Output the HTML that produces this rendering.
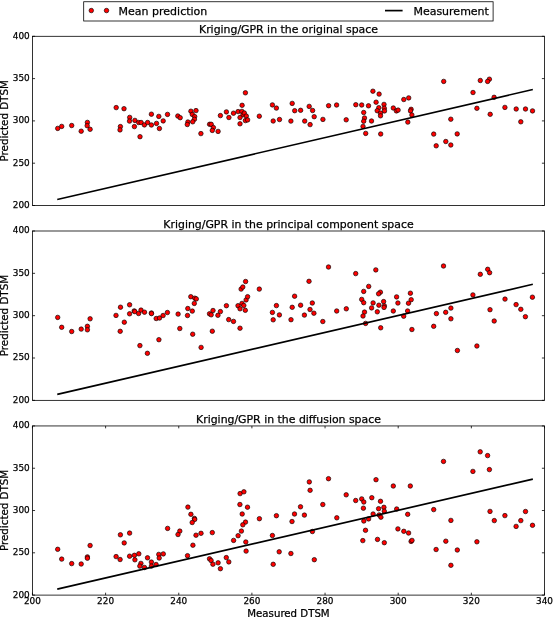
<!DOCTYPE html><html><head><meta charset="utf-8"><style>html,body{margin:0;padding:0;background:#fff;}svg{display:block}text{font-family:"DejaVu Sans","Liberation Sans",sans-serif;fill:#000;stroke:#000;stroke-width:0.25px}</style></head><body>
<svg width="553" height="617" viewBox="0 0 553 617">
<rect x="0" y="0" width="553" height="617" fill="#fff"/>
<rect x="83.7" y="1.75" width="409.4" height="19.25" fill="#fff" stroke="#000" stroke-width="0.8"/>
<circle cx="91.3" cy="10.55" r="2.25" fill="#f00" stroke="#000" stroke-width="0.65"/>
<circle cx="106.5" cy="10.55" r="2.25" fill="#f00" stroke="#000" stroke-width="0.65"/>
<text x="118.6" y="15.0" font-size="11">Mean prediction</text>
<line x1="385.0" y1="10.6" x2="402.6" y2="10.6" stroke="#000" stroke-width="1.7"/>
<text x="413.4" y="15.0" font-size="11">Measurement</text>
<circle cx="57.7" cy="128.4" r="2.25" fill="#f00" stroke="#000" stroke-width="0.65"/>
<circle cx="61.7" cy="126.4" r="2.25" fill="#f00" stroke="#000" stroke-width="0.65"/>
<circle cx="71.7" cy="125.5" r="2.25" fill="#f00" stroke="#000" stroke-width="0.65"/>
<circle cx="81.2" cy="131.2" r="2.25" fill="#f00" stroke="#000" stroke-width="0.65"/>
<circle cx="87.4" cy="122.4" r="2.25" fill="#f00" stroke="#000" stroke-width="0.65"/>
<circle cx="87.2" cy="125.7" r="2.25" fill="#f00" stroke="#000" stroke-width="0.65"/>
<circle cx="90.1" cy="129.3" r="2.25" fill="#f00" stroke="#000" stroke-width="0.65"/>
<circle cx="116.2" cy="107.6" r="2.25" fill="#f00" stroke="#000" stroke-width="0.65"/>
<circle cx="124.0" cy="108.7" r="2.25" fill="#f00" stroke="#000" stroke-width="0.65"/>
<circle cx="120.4" cy="126.6" r="2.25" fill="#f00" stroke="#000" stroke-width="0.65"/>
<circle cx="120.0" cy="129.9" r="2.25" fill="#f00" stroke="#000" stroke-width="0.65"/>
<circle cx="129.7" cy="117.4" r="2.25" fill="#f00" stroke="#000" stroke-width="0.65"/>
<circle cx="129.5" cy="121.1" r="2.25" fill="#f00" stroke="#000" stroke-width="0.65"/>
<circle cx="134.9" cy="120.4" r="2.25" fill="#f00" stroke="#000" stroke-width="0.65"/>
<circle cx="134.4" cy="126.6" r="2.25" fill="#f00" stroke="#000" stroke-width="0.65"/>
<circle cx="138.7" cy="122.5" r="2.25" fill="#f00" stroke="#000" stroke-width="0.65"/>
<circle cx="141.1" cy="122.5" r="2.25" fill="#f00" stroke="#000" stroke-width="0.65"/>
<circle cx="140.0" cy="136.7" r="2.25" fill="#f00" stroke="#000" stroke-width="0.65"/>
<circle cx="144.4" cy="124.9" r="2.25" fill="#f00" stroke="#000" stroke-width="0.65"/>
<circle cx="147.6" cy="122.5" r="2.25" fill="#f00" stroke="#000" stroke-width="0.65"/>
<circle cx="151.4" cy="114.2" r="2.25" fill="#f00" stroke="#000" stroke-width="0.65"/>
<circle cx="151.4" cy="125.0" r="2.25" fill="#f00" stroke="#000" stroke-width="0.65"/>
<circle cx="158.8" cy="116.4" r="2.25" fill="#f00" stroke="#000" stroke-width="0.65"/>
<circle cx="156.5" cy="123.4" r="2.25" fill="#f00" stroke="#000" stroke-width="0.65"/>
<circle cx="159.4" cy="128.5" r="2.25" fill="#f00" stroke="#000" stroke-width="0.65"/>
<circle cx="163.2" cy="120.9" r="2.25" fill="#f00" stroke="#000" stroke-width="0.65"/>
<circle cx="167.5" cy="114.4" r="2.25" fill="#f00" stroke="#000" stroke-width="0.65"/>
<circle cx="177.8" cy="116.0" r="2.25" fill="#f00" stroke="#000" stroke-width="0.65"/>
<circle cx="180.2" cy="117.7" r="2.25" fill="#f00" stroke="#000" stroke-width="0.65"/>
<circle cx="190.9" cy="111.2" r="2.25" fill="#f00" stroke="#000" stroke-width="0.65"/>
<circle cx="196.0" cy="110.6" r="2.25" fill="#f00" stroke="#000" stroke-width="0.65"/>
<circle cx="192.3" cy="114.4" r="2.25" fill="#f00" stroke="#000" stroke-width="0.65"/>
<circle cx="194.7" cy="116.6" r="2.25" fill="#f00" stroke="#000" stroke-width="0.65"/>
<circle cx="194.4" cy="119.3" r="2.25" fill="#f00" stroke="#000" stroke-width="0.65"/>
<circle cx="192.7" cy="121.8" r="2.25" fill="#f00" stroke="#000" stroke-width="0.65"/>
<circle cx="187.9" cy="122.0" r="2.25" fill="#f00" stroke="#000" stroke-width="0.65"/>
<circle cx="187.3" cy="124.5" r="2.25" fill="#f00" stroke="#000" stroke-width="0.65"/>
<circle cx="200.9" cy="133.6" r="2.25" fill="#f00" stroke="#000" stroke-width="0.65"/>
<circle cx="209.6" cy="124.3" r="2.25" fill="#f00" stroke="#000" stroke-width="0.65"/>
<circle cx="211.2" cy="124.3" r="2.25" fill="#f00" stroke="#000" stroke-width="0.65"/>
<circle cx="213.4" cy="127.6" r="2.25" fill="#f00" stroke="#000" stroke-width="0.65"/>
<circle cx="212.3" cy="130.4" r="2.25" fill="#f00" stroke="#000" stroke-width="0.65"/>
<circle cx="218.1" cy="131.4" r="2.25" fill="#f00" stroke="#000" stroke-width="0.65"/>
<circle cx="220.4" cy="115.6" r="2.25" fill="#f00" stroke="#000" stroke-width="0.65"/>
<circle cx="226.4" cy="111.9" r="2.25" fill="#f00" stroke="#000" stroke-width="0.65"/>
<circle cx="228.9" cy="117.5" r="2.25" fill="#f00" stroke="#000" stroke-width="0.65"/>
<circle cx="233.5" cy="113.2" r="2.25" fill="#f00" stroke="#000" stroke-width="0.65"/>
<circle cx="238.1" cy="111.6" r="2.25" fill="#f00" stroke="#000" stroke-width="0.65"/>
<circle cx="241.9" cy="111.4" r="2.25" fill="#f00" stroke="#000" stroke-width="0.65"/>
<circle cx="242.1" cy="105.3" r="2.25" fill="#f00" stroke="#000" stroke-width="0.65"/>
<circle cx="245.4" cy="92.8" r="2.25" fill="#f00" stroke="#000" stroke-width="0.65"/>
<circle cx="243.0" cy="114.8" r="2.25" fill="#f00" stroke="#000" stroke-width="0.65"/>
<circle cx="244.3" cy="113.0" r="2.25" fill="#f00" stroke="#000" stroke-width="0.65"/>
<circle cx="246.3" cy="116.1" r="2.25" fill="#f00" stroke="#000" stroke-width="0.65"/>
<circle cx="240.0" cy="117.5" r="2.25" fill="#f00" stroke="#000" stroke-width="0.65"/>
<circle cx="245.4" cy="120.6" r="2.25" fill="#f00" stroke="#000" stroke-width="0.65"/>
<circle cx="247.6" cy="119.9" r="2.25" fill="#f00" stroke="#000" stroke-width="0.65"/>
<circle cx="240.0" cy="123.8" r="2.25" fill="#f00" stroke="#000" stroke-width="0.65"/>
<circle cx="259.3" cy="116.2" r="2.25" fill="#f00" stroke="#000" stroke-width="0.65"/>
<circle cx="272.4" cy="104.9" r="2.25" fill="#f00" stroke="#000" stroke-width="0.65"/>
<circle cx="276.4" cy="108.1" r="2.25" fill="#f00" stroke="#000" stroke-width="0.65"/>
<circle cx="273.2" cy="121.0" r="2.25" fill="#f00" stroke="#000" stroke-width="0.65"/>
<circle cx="279.5" cy="119.5" r="2.25" fill="#f00" stroke="#000" stroke-width="0.65"/>
<circle cx="292.2" cy="103.4" r="2.25" fill="#f00" stroke="#000" stroke-width="0.65"/>
<circle cx="294.7" cy="110.7" r="2.25" fill="#f00" stroke="#000" stroke-width="0.65"/>
<circle cx="300.6" cy="110.3" r="2.25" fill="#f00" stroke="#000" stroke-width="0.65"/>
<circle cx="290.9" cy="121.1" r="2.25" fill="#f00" stroke="#000" stroke-width="0.65"/>
<circle cx="304.7" cy="121.1" r="2.25" fill="#f00" stroke="#000" stroke-width="0.65"/>
<circle cx="309.2" cy="106.4" r="2.25" fill="#f00" stroke="#000" stroke-width="0.65"/>
<circle cx="312.6" cy="110.5" r="2.25" fill="#f00" stroke="#000" stroke-width="0.65"/>
<circle cx="314.2" cy="116.7" r="2.25" fill="#f00" stroke="#000" stroke-width="0.65"/>
<circle cx="310.1" cy="124.6" r="2.25" fill="#f00" stroke="#000" stroke-width="0.65"/>
<circle cx="328.6" cy="105.7" r="2.25" fill="#f00" stroke="#000" stroke-width="0.65"/>
<circle cx="336.6" cy="105.0" r="2.25" fill="#f00" stroke="#000" stroke-width="0.65"/>
<circle cx="322.9" cy="119.4" r="2.25" fill="#f00" stroke="#000" stroke-width="0.65"/>
<circle cx="346.2" cy="119.8" r="2.25" fill="#f00" stroke="#000" stroke-width="0.65"/>
<circle cx="355.8" cy="104.7" r="2.25" fill="#f00" stroke="#000" stroke-width="0.65"/>
<circle cx="361.7" cy="105.0" r="2.25" fill="#f00" stroke="#000" stroke-width="0.65"/>
<circle cx="368.5" cy="105.8" r="2.25" fill="#f00" stroke="#000" stroke-width="0.65"/>
<circle cx="363.7" cy="112.5" r="2.25" fill="#f00" stroke="#000" stroke-width="0.65"/>
<circle cx="364.5" cy="118.0" r="2.25" fill="#f00" stroke="#000" stroke-width="0.65"/>
<circle cx="363.7" cy="121.2" r="2.25" fill="#f00" stroke="#000" stroke-width="0.65"/>
<circle cx="363.0" cy="126.4" r="2.25" fill="#f00" stroke="#000" stroke-width="0.65"/>
<circle cx="371.5" cy="121.0" r="2.25" fill="#f00" stroke="#000" stroke-width="0.65"/>
<circle cx="365.7" cy="133.4" r="2.25" fill="#f00" stroke="#000" stroke-width="0.65"/>
<circle cx="380.7" cy="134.0" r="2.25" fill="#f00" stroke="#000" stroke-width="0.65"/>
<circle cx="372.9" cy="91.2" r="2.25" fill="#f00" stroke="#000" stroke-width="0.65"/>
<circle cx="379.1" cy="94.1" r="2.25" fill="#f00" stroke="#000" stroke-width="0.65"/>
<circle cx="376.1" cy="102.2" r="2.25" fill="#f00" stroke="#000" stroke-width="0.65"/>
<circle cx="384.0" cy="104.4" r="2.25" fill="#f00" stroke="#000" stroke-width="0.65"/>
<circle cx="378.8" cy="107.7" r="2.25" fill="#f00" stroke="#000" stroke-width="0.65"/>
<circle cx="377.2" cy="110.7" r="2.25" fill="#f00" stroke="#000" stroke-width="0.65"/>
<circle cx="384.3" cy="108.2" r="2.25" fill="#f00" stroke="#000" stroke-width="0.65"/>
<circle cx="384.5" cy="110.9" r="2.25" fill="#f00" stroke="#000" stroke-width="0.65"/>
<circle cx="380.5" cy="113.1" r="2.25" fill="#f00" stroke="#000" stroke-width="0.65"/>
<circle cx="380.5" cy="115.8" r="2.25" fill="#f00" stroke="#000" stroke-width="0.65"/>
<circle cx="393.3" cy="108.0" r="2.25" fill="#f00" stroke="#000" stroke-width="0.65"/>
<circle cx="396.4" cy="110.9" r="2.25" fill="#f00" stroke="#000" stroke-width="0.65"/>
<circle cx="398.1" cy="110.1" r="2.25" fill="#f00" stroke="#000" stroke-width="0.65"/>
<circle cx="403.8" cy="99.5" r="2.25" fill="#f00" stroke="#000" stroke-width="0.65"/>
<circle cx="408.7" cy="97.9" r="2.25" fill="#f00" stroke="#000" stroke-width="0.65"/>
<circle cx="411.1" cy="109.3" r="2.25" fill="#f00" stroke="#000" stroke-width="0.65"/>
<circle cx="410.5" cy="110.9" r="2.25" fill="#f00" stroke="#000" stroke-width="0.65"/>
<circle cx="411.9" cy="115.0" r="2.25" fill="#f00" stroke="#000" stroke-width="0.65"/>
<circle cx="407.8" cy="122.1" r="2.25" fill="#f00" stroke="#000" stroke-width="0.65"/>
<circle cx="443.7" cy="81.4" r="2.25" fill="#f00" stroke="#000" stroke-width="0.65"/>
<circle cx="480.3" cy="80.5" r="2.25" fill="#f00" stroke="#000" stroke-width="0.65"/>
<circle cx="473.0" cy="92.5" r="2.25" fill="#f00" stroke="#000" stroke-width="0.65"/>
<circle cx="476.9" cy="108.3" r="2.25" fill="#f00" stroke="#000" stroke-width="0.65"/>
<circle cx="450.8" cy="119.2" r="2.25" fill="#f00" stroke="#000" stroke-width="0.65"/>
<circle cx="433.7" cy="134.1" r="2.25" fill="#f00" stroke="#000" stroke-width="0.65"/>
<circle cx="457.2" cy="133.9" r="2.25" fill="#f00" stroke="#000" stroke-width="0.65"/>
<circle cx="445.8" cy="141.5" r="2.25" fill="#f00" stroke="#000" stroke-width="0.65"/>
<circle cx="436.2" cy="145.8" r="2.25" fill="#f00" stroke="#000" stroke-width="0.65"/>
<circle cx="450.8" cy="145.0" r="2.25" fill="#f00" stroke="#000" stroke-width="0.65"/>
<circle cx="489.4" cy="79.2" r="2.25" fill="#f00" stroke="#000" stroke-width="0.65"/>
<circle cx="487.6" cy="81.4" r="2.25" fill="#f00" stroke="#000" stroke-width="0.65"/>
<circle cx="494.1" cy="97.3" r="2.25" fill="#f00" stroke="#000" stroke-width="0.65"/>
<circle cx="504.9" cy="107.4" r="2.25" fill="#f00" stroke="#000" stroke-width="0.65"/>
<circle cx="516.2" cy="109.0" r="2.25" fill="#f00" stroke="#000" stroke-width="0.65"/>
<circle cx="525.5" cy="109.0" r="2.25" fill="#f00" stroke="#000" stroke-width="0.65"/>
<circle cx="532.5" cy="110.9" r="2.25" fill="#f00" stroke="#000" stroke-width="0.65"/>
<circle cx="490.2" cy="114.3" r="2.25" fill="#f00" stroke="#000" stroke-width="0.65"/>
<circle cx="520.8" cy="121.8" r="2.25" fill="#f00" stroke="#000" stroke-width="0.65"/>
<line x1="57.25" y1="199.51" x2="532.85" y2="89.50" stroke="#000" stroke-width="1.7"/>
<rect x="32.45" y="36.3" width="512.05" height="169.20" fill="none" stroke="#000" stroke-width="0.8"/>
<line x1="32.45" y1="205.50" x2="35.050000000000004" y2="205.50" stroke="#000" stroke-width="0.8"/>
<line x1="544.5" y1="205.50" x2="541.9" y2="205.50" stroke="#000" stroke-width="0.8"/>
<text x="29.7" y="207.95" font-size="8.9" text-anchor="end">200</text>
<line x1="32.45" y1="163.20" x2="35.050000000000004" y2="163.20" stroke="#000" stroke-width="0.8"/>
<line x1="544.5" y1="163.20" x2="541.9" y2="163.20" stroke="#000" stroke-width="0.8"/>
<text x="29.7" y="165.65" font-size="8.9" text-anchor="end">250</text>
<line x1="32.45" y1="120.90" x2="35.050000000000004" y2="120.90" stroke="#000" stroke-width="0.8"/>
<line x1="544.5" y1="120.90" x2="541.9" y2="120.90" stroke="#000" stroke-width="0.8"/>
<text x="29.7" y="123.35" font-size="8.9" text-anchor="end">300</text>
<line x1="32.45" y1="78.60" x2="35.050000000000004" y2="78.60" stroke="#000" stroke-width="0.8"/>
<line x1="544.5" y1="78.60" x2="541.9" y2="78.60" stroke="#000" stroke-width="0.8"/>
<text x="29.7" y="81.05" font-size="8.9" text-anchor="end">350</text>
<line x1="32.45" y1="36.30" x2="35.050000000000004" y2="36.30" stroke="#000" stroke-width="0.8"/>
<line x1="544.5" y1="36.30" x2="541.9" y2="36.30" stroke="#000" stroke-width="0.8"/>
<text x="29.7" y="38.75" font-size="8.9" text-anchor="end">400</text>
<text x="288.48" y="33.30" font-size="10.9" text-anchor="middle">Kriging/GPR in the original space</text>
<text transform="translate(7.8,120.80) rotate(-90)" font-size="10.3" text-anchor="middle">Predicted DTSM</text>
<circle cx="57.7" cy="317.4" r="2.25" fill="#f00" stroke="#000" stroke-width="0.65"/>
<circle cx="61.7" cy="327.3" r="2.25" fill="#f00" stroke="#000" stroke-width="0.65"/>
<circle cx="71.7" cy="331.5" r="2.25" fill="#f00" stroke="#000" stroke-width="0.65"/>
<circle cx="81.2" cy="329.1" r="2.25" fill="#f00" stroke="#000" stroke-width="0.65"/>
<circle cx="87.4" cy="326.3" r="2.25" fill="#f00" stroke="#000" stroke-width="0.65"/>
<circle cx="87.4" cy="329.8" r="2.25" fill="#f00" stroke="#000" stroke-width="0.65"/>
<circle cx="90.1" cy="318.8" r="2.25" fill="#f00" stroke="#000" stroke-width="0.65"/>
<circle cx="116.0" cy="315.4" r="2.25" fill="#f00" stroke="#000" stroke-width="0.65"/>
<circle cx="120.5" cy="307.2" r="2.25" fill="#f00" stroke="#000" stroke-width="0.65"/>
<circle cx="124.3" cy="322.2" r="2.25" fill="#f00" stroke="#000" stroke-width="0.65"/>
<circle cx="120.2" cy="331.3" r="2.25" fill="#f00" stroke="#000" stroke-width="0.65"/>
<circle cx="129.6" cy="304.8" r="2.25" fill="#f00" stroke="#000" stroke-width="0.65"/>
<circle cx="129.6" cy="313.8" r="2.25" fill="#f00" stroke="#000" stroke-width="0.65"/>
<circle cx="134.2" cy="310.9" r="2.25" fill="#f00" stroke="#000" stroke-width="0.65"/>
<circle cx="134.8" cy="311.6" r="2.25" fill="#f00" stroke="#000" stroke-width="0.65"/>
<circle cx="138.6" cy="313.5" r="2.25" fill="#f00" stroke="#000" stroke-width="0.65"/>
<circle cx="141.0" cy="310.1" r="2.25" fill="#f00" stroke="#000" stroke-width="0.65"/>
<circle cx="144.5" cy="312.2" r="2.25" fill="#f00" stroke="#000" stroke-width="0.65"/>
<circle cx="151.4" cy="313.0" r="2.25" fill="#f00" stroke="#000" stroke-width="0.65"/>
<circle cx="151.5" cy="313.6" r="2.25" fill="#f00" stroke="#000" stroke-width="0.65"/>
<circle cx="139.9" cy="345.6" r="2.25" fill="#f00" stroke="#000" stroke-width="0.65"/>
<circle cx="147.4" cy="353.3" r="2.25" fill="#f00" stroke="#000" stroke-width="0.65"/>
<circle cx="156.2" cy="318.5" r="2.25" fill="#f00" stroke="#000" stroke-width="0.65"/>
<circle cx="159.5" cy="318.0" r="2.25" fill="#f00" stroke="#000" stroke-width="0.65"/>
<circle cx="163.1" cy="315.5" r="2.25" fill="#f00" stroke="#000" stroke-width="0.65"/>
<circle cx="167.4" cy="312.5" r="2.25" fill="#f00" stroke="#000" stroke-width="0.65"/>
<circle cx="178.1" cy="314.1" r="2.25" fill="#f00" stroke="#000" stroke-width="0.65"/>
<circle cx="179.8" cy="328.5" r="2.25" fill="#f00" stroke="#000" stroke-width="0.65"/>
<circle cx="187.8" cy="308.5" r="2.25" fill="#f00" stroke="#000" stroke-width="0.65"/>
<circle cx="187.5" cy="315.5" r="2.25" fill="#f00" stroke="#000" stroke-width="0.65"/>
<circle cx="192.3" cy="311.1" r="2.25" fill="#f00" stroke="#000" stroke-width="0.65"/>
<circle cx="190.8" cy="296.7" r="2.25" fill="#f00" stroke="#000" stroke-width="0.65"/>
<circle cx="194.8" cy="298.2" r="2.25" fill="#f00" stroke="#000" stroke-width="0.65"/>
<circle cx="196.3" cy="298.9" r="2.25" fill="#f00" stroke="#000" stroke-width="0.65"/>
<circle cx="194.3" cy="303.4" r="2.25" fill="#f00" stroke="#000" stroke-width="0.65"/>
<circle cx="158.9" cy="339.7" r="2.25" fill="#f00" stroke="#000" stroke-width="0.65"/>
<circle cx="192.7" cy="334.2" r="2.25" fill="#f00" stroke="#000" stroke-width="0.65"/>
<circle cx="201.1" cy="347.4" r="2.25" fill="#f00" stroke="#000" stroke-width="0.65"/>
<circle cx="209.5" cy="313.8" r="2.25" fill="#f00" stroke="#000" stroke-width="0.65"/>
<circle cx="211.2" cy="314.8" r="2.25" fill="#f00" stroke="#000" stroke-width="0.65"/>
<circle cx="213.0" cy="310.5" r="2.25" fill="#f00" stroke="#000" stroke-width="0.65"/>
<circle cx="220.4" cy="311.6" r="2.25" fill="#f00" stroke="#000" stroke-width="0.65"/>
<circle cx="217.9" cy="315.3" r="2.25" fill="#f00" stroke="#000" stroke-width="0.65"/>
<circle cx="226.4" cy="305.7" r="2.25" fill="#f00" stroke="#000" stroke-width="0.65"/>
<circle cx="228.7" cy="319.6" r="2.25" fill="#f00" stroke="#000" stroke-width="0.65"/>
<circle cx="233.5" cy="321.4" r="2.25" fill="#f00" stroke="#000" stroke-width="0.65"/>
<circle cx="238.0" cy="305.7" r="2.25" fill="#f00" stroke="#000" stroke-width="0.65"/>
<circle cx="242.0" cy="303.4" r="2.25" fill="#f00" stroke="#000" stroke-width="0.65"/>
<circle cx="243.8" cy="305.4" r="2.25" fill="#f00" stroke="#000" stroke-width="0.65"/>
<circle cx="240.0" cy="308.8" r="2.25" fill="#f00" stroke="#000" stroke-width="0.65"/>
<circle cx="245.3" cy="310.3" r="2.25" fill="#f00" stroke="#000" stroke-width="0.65"/>
<circle cx="246.1" cy="299.9" r="2.25" fill="#f00" stroke="#000" stroke-width="0.65"/>
<circle cx="247.6" cy="296.7" r="2.25" fill="#f00" stroke="#000" stroke-width="0.65"/>
<circle cx="241.1" cy="289.1" r="2.25" fill="#f00" stroke="#000" stroke-width="0.65"/>
<circle cx="242.8" cy="287.0" r="2.25" fill="#f00" stroke="#000" stroke-width="0.65"/>
<circle cx="245.6" cy="281.5" r="2.25" fill="#f00" stroke="#000" stroke-width="0.65"/>
<circle cx="240.0" cy="328.2" r="2.25" fill="#f00" stroke="#000" stroke-width="0.65"/>
<circle cx="212.3" cy="331.2" r="2.25" fill="#f00" stroke="#000" stroke-width="0.65"/>
<circle cx="259.3" cy="289.1" r="2.25" fill="#f00" stroke="#000" stroke-width="0.65"/>
<circle cx="276.4" cy="305.6" r="2.25" fill="#f00" stroke="#000" stroke-width="0.65"/>
<circle cx="272.4" cy="312.4" r="2.25" fill="#f00" stroke="#000" stroke-width="0.65"/>
<circle cx="279.4" cy="314.9" r="2.25" fill="#f00" stroke="#000" stroke-width="0.65"/>
<circle cx="273.2" cy="319.8" r="2.25" fill="#f00" stroke="#000" stroke-width="0.65"/>
<circle cx="294.6" cy="296.2" r="2.25" fill="#f00" stroke="#000" stroke-width="0.65"/>
<circle cx="292.2" cy="307.3" r="2.25" fill="#f00" stroke="#000" stroke-width="0.65"/>
<circle cx="291.0" cy="319.7" r="2.25" fill="#f00" stroke="#000" stroke-width="0.65"/>
<circle cx="300.6" cy="305.2" r="2.25" fill="#f00" stroke="#000" stroke-width="0.65"/>
<circle cx="304.4" cy="315.1" r="2.25" fill="#f00" stroke="#000" stroke-width="0.65"/>
<circle cx="309.0" cy="281.3" r="2.25" fill="#f00" stroke="#000" stroke-width="0.65"/>
<circle cx="312.3" cy="303.0" r="2.25" fill="#f00" stroke="#000" stroke-width="0.65"/>
<circle cx="310.0" cy="309.5" r="2.25" fill="#f00" stroke="#000" stroke-width="0.65"/>
<circle cx="313.9" cy="313.2" r="2.25" fill="#f00" stroke="#000" stroke-width="0.65"/>
<circle cx="328.5" cy="267.0" r="2.25" fill="#f00" stroke="#000" stroke-width="0.65"/>
<circle cx="322.8" cy="321.5" r="2.25" fill="#f00" stroke="#000" stroke-width="0.65"/>
<circle cx="336.7" cy="311.0" r="2.25" fill="#f00" stroke="#000" stroke-width="0.65"/>
<circle cx="346.3" cy="308.8" r="2.25" fill="#f00" stroke="#000" stroke-width="0.65"/>
<circle cx="355.7" cy="273.6" r="2.25" fill="#f00" stroke="#000" stroke-width="0.65"/>
<circle cx="368.7" cy="286.4" r="2.25" fill="#f00" stroke="#000" stroke-width="0.65"/>
<circle cx="363.7" cy="291.4" r="2.25" fill="#f00" stroke="#000" stroke-width="0.65"/>
<circle cx="361.7" cy="299.4" r="2.25" fill="#f00" stroke="#000" stroke-width="0.65"/>
<circle cx="363.7" cy="302.7" r="2.25" fill="#f00" stroke="#000" stroke-width="0.65"/>
<circle cx="364.5" cy="312.1" r="2.25" fill="#f00" stroke="#000" stroke-width="0.65"/>
<circle cx="363.0" cy="316.0" r="2.25" fill="#f00" stroke="#000" stroke-width="0.65"/>
<circle cx="365.6" cy="323.4" r="2.25" fill="#f00" stroke="#000" stroke-width="0.65"/>
<circle cx="373.1" cy="302.9" r="2.25" fill="#f00" stroke="#000" stroke-width="0.65"/>
<circle cx="371.6" cy="307.9" r="2.25" fill="#f00" stroke="#000" stroke-width="0.65"/>
<circle cx="377.3" cy="311.8" r="2.25" fill="#f00" stroke="#000" stroke-width="0.65"/>
<circle cx="378.9" cy="305.2" r="2.25" fill="#f00" stroke="#000" stroke-width="0.65"/>
<circle cx="383.6" cy="301.6" r="2.25" fill="#f00" stroke="#000" stroke-width="0.65"/>
<circle cx="384.4" cy="305.9" r="2.25" fill="#f00" stroke="#000" stroke-width="0.65"/>
<circle cx="384.0" cy="307.4" r="2.25" fill="#f00" stroke="#000" stroke-width="0.65"/>
<circle cx="380.4" cy="292.2" r="2.25" fill="#f00" stroke="#000" stroke-width="0.65"/>
<circle cx="378.6" cy="293.8" r="2.25" fill="#f00" stroke="#000" stroke-width="0.65"/>
<circle cx="380.7" cy="327.8" r="2.25" fill="#f00" stroke="#000" stroke-width="0.65"/>
<circle cx="375.8" cy="269.9" r="2.25" fill="#f00" stroke="#000" stroke-width="0.65"/>
<circle cx="396.6" cy="296.9" r="2.25" fill="#f00" stroke="#000" stroke-width="0.65"/>
<circle cx="397.9" cy="303.0" r="2.25" fill="#f00" stroke="#000" stroke-width="0.65"/>
<circle cx="393.3" cy="311.0" r="2.25" fill="#f00" stroke="#000" stroke-width="0.65"/>
<circle cx="403.7" cy="316.2" r="2.25" fill="#f00" stroke="#000" stroke-width="0.65"/>
<circle cx="407.6" cy="311.0" r="2.25" fill="#f00" stroke="#000" stroke-width="0.65"/>
<circle cx="408.5" cy="303.2" r="2.25" fill="#f00" stroke="#000" stroke-width="0.65"/>
<circle cx="411.2" cy="299.7" r="2.25" fill="#f00" stroke="#000" stroke-width="0.65"/>
<circle cx="410.4" cy="293.2" r="2.25" fill="#f00" stroke="#000" stroke-width="0.65"/>
<circle cx="411.9" cy="329.5" r="2.25" fill="#f00" stroke="#000" stroke-width="0.65"/>
<circle cx="443.5" cy="266.0" r="2.25" fill="#f00" stroke="#000" stroke-width="0.65"/>
<circle cx="480.3" cy="274.3" r="2.25" fill="#f00" stroke="#000" stroke-width="0.65"/>
<circle cx="472.9" cy="294.9" r="2.25" fill="#f00" stroke="#000" stroke-width="0.65"/>
<circle cx="450.9" cy="308.1" r="2.25" fill="#f00" stroke="#000" stroke-width="0.65"/>
<circle cx="436.4" cy="313.6" r="2.25" fill="#f00" stroke="#000" stroke-width="0.65"/>
<circle cx="445.7" cy="312.3" r="2.25" fill="#f00" stroke="#000" stroke-width="0.65"/>
<circle cx="450.9" cy="318.8" r="2.25" fill="#f00" stroke="#000" stroke-width="0.65"/>
<circle cx="433.7" cy="326.3" r="2.25" fill="#f00" stroke="#000" stroke-width="0.65"/>
<circle cx="457.4" cy="350.5" r="2.25" fill="#f00" stroke="#000" stroke-width="0.65"/>
<circle cx="476.9" cy="346.0" r="2.25" fill="#f00" stroke="#000" stroke-width="0.65"/>
<circle cx="487.7" cy="269.3" r="2.25" fill="#f00" stroke="#000" stroke-width="0.65"/>
<circle cx="489.6" cy="272.7" r="2.25" fill="#f00" stroke="#000" stroke-width="0.65"/>
<circle cx="505.0" cy="299.1" r="2.25" fill="#f00" stroke="#000" stroke-width="0.65"/>
<circle cx="532.4" cy="297.2" r="2.25" fill="#f00" stroke="#000" stroke-width="0.65"/>
<circle cx="516.1" cy="304.6" r="2.25" fill="#f00" stroke="#000" stroke-width="0.65"/>
<circle cx="520.8" cy="309.3" r="2.25" fill="#f00" stroke="#000" stroke-width="0.65"/>
<circle cx="525.4" cy="316.7" r="2.25" fill="#f00" stroke="#000" stroke-width="0.65"/>
<circle cx="490.0" cy="309.7" r="2.25" fill="#f00" stroke="#000" stroke-width="0.65"/>
<circle cx="494.2" cy="321.0" r="2.25" fill="#f00" stroke="#000" stroke-width="0.65"/>
<line x1="57.25" y1="394.36" x2="532.85" y2="284.25" stroke="#000" stroke-width="1.7"/>
<rect x="32.45" y="231.0" width="512.05" height="169.35" fill="none" stroke="#000" stroke-width="0.8"/>
<line x1="32.45" y1="400.35" x2="35.050000000000004" y2="400.35" stroke="#000" stroke-width="0.8"/>
<line x1="544.5" y1="400.35" x2="541.9" y2="400.35" stroke="#000" stroke-width="0.8"/>
<text x="29.7" y="402.80" font-size="8.9" text-anchor="end">200</text>
<line x1="32.45" y1="358.01" x2="35.050000000000004" y2="358.01" stroke="#000" stroke-width="0.8"/>
<line x1="544.5" y1="358.01" x2="541.9" y2="358.01" stroke="#000" stroke-width="0.8"/>
<text x="29.7" y="360.46" font-size="8.9" text-anchor="end">250</text>
<line x1="32.45" y1="315.68" x2="35.050000000000004" y2="315.68" stroke="#000" stroke-width="0.8"/>
<line x1="544.5" y1="315.68" x2="541.9" y2="315.68" stroke="#000" stroke-width="0.8"/>
<text x="29.7" y="318.12" font-size="8.9" text-anchor="end">300</text>
<line x1="32.45" y1="273.34" x2="35.050000000000004" y2="273.34" stroke="#000" stroke-width="0.8"/>
<line x1="544.5" y1="273.34" x2="541.9" y2="273.34" stroke="#000" stroke-width="0.8"/>
<text x="29.7" y="275.79" font-size="8.9" text-anchor="end">350</text>
<line x1="32.45" y1="231.00" x2="35.050000000000004" y2="231.00" stroke="#000" stroke-width="0.8"/>
<line x1="544.5" y1="231.00" x2="541.9" y2="231.00" stroke="#000" stroke-width="0.8"/>
<text x="29.7" y="233.45" font-size="8.9" text-anchor="end">400</text>
<text x="288.48" y="228.00" font-size="10.9" text-anchor="middle">Kriging/GPR in the principal component space</text>
<text transform="translate(7.8,315.57) rotate(-90)" font-size="10.3" text-anchor="middle">Predicted DTSM</text>
<circle cx="57.7" cy="549.3" r="2.25" fill="#f00" stroke="#000" stroke-width="0.65"/>
<circle cx="61.7" cy="559.1" r="2.25" fill="#f00" stroke="#000" stroke-width="0.65"/>
<circle cx="71.7" cy="563.6" r="2.25" fill="#f00" stroke="#000" stroke-width="0.65"/>
<circle cx="81.2" cy="564.0" r="2.25" fill="#f00" stroke="#000" stroke-width="0.65"/>
<circle cx="87.4" cy="556.9" r="2.25" fill="#f00" stroke="#000" stroke-width="0.65"/>
<circle cx="87.4" cy="558.2" r="2.25" fill="#f00" stroke="#000" stroke-width="0.65"/>
<circle cx="90.1" cy="545.5" r="2.25" fill="#f00" stroke="#000" stroke-width="0.65"/>
<circle cx="120.4" cy="534.8" r="2.25" fill="#f00" stroke="#000" stroke-width="0.65"/>
<circle cx="129.6" cy="533.1" r="2.25" fill="#f00" stroke="#000" stroke-width="0.65"/>
<circle cx="124.2" cy="542.9" r="2.25" fill="#f00" stroke="#000" stroke-width="0.65"/>
<circle cx="116.1" cy="556.6" r="2.25" fill="#f00" stroke="#000" stroke-width="0.65"/>
<circle cx="120.1" cy="559.5" r="2.25" fill="#f00" stroke="#000" stroke-width="0.65"/>
<circle cx="129.6" cy="556.2" r="2.25" fill="#f00" stroke="#000" stroke-width="0.65"/>
<circle cx="134.4" cy="555.3" r="2.25" fill="#f00" stroke="#000" stroke-width="0.65"/>
<circle cx="138.8" cy="553.8" r="2.25" fill="#f00" stroke="#000" stroke-width="0.65"/>
<circle cx="134.9" cy="559.8" r="2.25" fill="#f00" stroke="#000" stroke-width="0.65"/>
<circle cx="147.5" cy="557.8" r="2.25" fill="#f00" stroke="#000" stroke-width="0.65"/>
<circle cx="140.9" cy="563.4" r="2.25" fill="#f00" stroke="#000" stroke-width="0.65"/>
<circle cx="139.8" cy="566.1" r="2.25" fill="#f00" stroke="#000" stroke-width="0.65"/>
<circle cx="144.5" cy="567.5" r="2.25" fill="#f00" stroke="#000" stroke-width="0.65"/>
<circle cx="151.4" cy="562.1" r="2.25" fill="#f00" stroke="#000" stroke-width="0.65"/>
<circle cx="151.4" cy="566.1" r="2.25" fill="#f00" stroke="#000" stroke-width="0.65"/>
<circle cx="156.1" cy="564.5" r="2.25" fill="#f00" stroke="#000" stroke-width="0.65"/>
<circle cx="158.8" cy="554.4" r="2.25" fill="#f00" stroke="#000" stroke-width="0.65"/>
<circle cx="159.2" cy="558.0" r="2.25" fill="#f00" stroke="#000" stroke-width="0.65"/>
<circle cx="163.3" cy="553.9" r="2.25" fill="#f00" stroke="#000" stroke-width="0.65"/>
<circle cx="167.6" cy="528.4" r="2.25" fill="#f00" stroke="#000" stroke-width="0.65"/>
<circle cx="179.8" cy="531.1" r="2.25" fill="#f00" stroke="#000" stroke-width="0.65"/>
<circle cx="178.0" cy="534.5" r="2.25" fill="#f00" stroke="#000" stroke-width="0.65"/>
<circle cx="187.5" cy="555.7" r="2.25" fill="#f00" stroke="#000" stroke-width="0.65"/>
<circle cx="192.9" cy="545.2" r="2.25" fill="#f00" stroke="#000" stroke-width="0.65"/>
<circle cx="196.0" cy="535.2" r="2.25" fill="#f00" stroke="#000" stroke-width="0.65"/>
<circle cx="201.0" cy="533.3" r="2.25" fill="#f00" stroke="#000" stroke-width="0.65"/>
<circle cx="187.9" cy="507.1" r="2.25" fill="#f00" stroke="#000" stroke-width="0.65"/>
<circle cx="190.9" cy="514.3" r="2.25" fill="#f00" stroke="#000" stroke-width="0.65"/>
<circle cx="194.4" cy="518.4" r="2.25" fill="#f00" stroke="#000" stroke-width="0.65"/>
<circle cx="194.7" cy="519.4" r="2.25" fill="#f00" stroke="#000" stroke-width="0.65"/>
<circle cx="192.2" cy="522.5" r="2.25" fill="#f00" stroke="#000" stroke-width="0.65"/>
<circle cx="212.3" cy="532.6" r="2.25" fill="#f00" stroke="#000" stroke-width="0.65"/>
<circle cx="240.1" cy="493.6" r="2.25" fill="#f00" stroke="#000" stroke-width="0.65"/>
<circle cx="243.9" cy="491.8" r="2.25" fill="#f00" stroke="#000" stroke-width="0.65"/>
<circle cx="239.9" cy="504.5" r="2.25" fill="#f00" stroke="#000" stroke-width="0.65"/>
<circle cx="247.5" cy="507.2" r="2.25" fill="#f00" stroke="#000" stroke-width="0.65"/>
<circle cx="242.2" cy="514.0" r="2.25" fill="#f00" stroke="#000" stroke-width="0.65"/>
<circle cx="245.5" cy="522.1" r="2.25" fill="#f00" stroke="#000" stroke-width="0.65"/>
<circle cx="242.8" cy="524.8" r="2.25" fill="#f00" stroke="#000" stroke-width="0.65"/>
<circle cx="241.4" cy="531.1" r="2.25" fill="#f00" stroke="#000" stroke-width="0.65"/>
<circle cx="238.1" cy="535.7" r="2.25" fill="#f00" stroke="#000" stroke-width="0.65"/>
<circle cx="233.6" cy="540.4" r="2.25" fill="#f00" stroke="#000" stroke-width="0.65"/>
<circle cx="245.8" cy="542.0" r="2.25" fill="#f00" stroke="#000" stroke-width="0.65"/>
<circle cx="246.1" cy="551.1" r="2.25" fill="#f00" stroke="#000" stroke-width="0.65"/>
<circle cx="209.5" cy="558.8" r="2.25" fill="#f00" stroke="#000" stroke-width="0.65"/>
<circle cx="211.1" cy="560.5" r="2.25" fill="#f00" stroke="#000" stroke-width="0.65"/>
<circle cx="212.9" cy="564.2" r="2.25" fill="#f00" stroke="#000" stroke-width="0.65"/>
<circle cx="218.1" cy="562.8" r="2.25" fill="#f00" stroke="#000" stroke-width="0.65"/>
<circle cx="220.4" cy="568.7" r="2.25" fill="#f00" stroke="#000" stroke-width="0.65"/>
<circle cx="226.3" cy="557.6" r="2.25" fill="#f00" stroke="#000" stroke-width="0.65"/>
<circle cx="228.8" cy="561.9" r="2.25" fill="#f00" stroke="#000" stroke-width="0.65"/>
<circle cx="259.4" cy="518.7" r="2.25" fill="#f00" stroke="#000" stroke-width="0.65"/>
<circle cx="276.4" cy="515.7" r="2.25" fill="#f00" stroke="#000" stroke-width="0.65"/>
<circle cx="272.4" cy="535.5" r="2.25" fill="#f00" stroke="#000" stroke-width="0.65"/>
<circle cx="279.2" cy="551.8" r="2.25" fill="#f00" stroke="#000" stroke-width="0.65"/>
<circle cx="273.2" cy="564.3" r="2.25" fill="#f00" stroke="#000" stroke-width="0.65"/>
<circle cx="290.9" cy="553.5" r="2.25" fill="#f00" stroke="#000" stroke-width="0.65"/>
<circle cx="292.0" cy="521.5" r="2.25" fill="#f00" stroke="#000" stroke-width="0.65"/>
<circle cx="294.5" cy="514.0" r="2.25" fill="#f00" stroke="#000" stroke-width="0.65"/>
<circle cx="300.5" cy="506.8" r="2.25" fill="#f00" stroke="#000" stroke-width="0.65"/>
<circle cx="304.4" cy="515.1" r="2.25" fill="#f00" stroke="#000" stroke-width="0.65"/>
<circle cx="309.3" cy="481.9" r="2.25" fill="#f00" stroke="#000" stroke-width="0.65"/>
<circle cx="310.1" cy="490.3" r="2.25" fill="#f00" stroke="#000" stroke-width="0.65"/>
<circle cx="328.5" cy="478.7" r="2.25" fill="#f00" stroke="#000" stroke-width="0.65"/>
<circle cx="322.8" cy="504.5" r="2.25" fill="#f00" stroke="#000" stroke-width="0.65"/>
<circle cx="336.8" cy="517.8" r="2.25" fill="#f00" stroke="#000" stroke-width="0.65"/>
<circle cx="346.2" cy="494.8" r="2.25" fill="#f00" stroke="#000" stroke-width="0.65"/>
<circle cx="355.7" cy="500.5" r="2.25" fill="#f00" stroke="#000" stroke-width="0.65"/>
<circle cx="361.7" cy="498.9" r="2.25" fill="#f00" stroke="#000" stroke-width="0.65"/>
<circle cx="363.8" cy="502.0" r="2.25" fill="#f00" stroke="#000" stroke-width="0.65"/>
<circle cx="363.4" cy="508.2" r="2.25" fill="#f00" stroke="#000" stroke-width="0.65"/>
<circle cx="363.8" cy="521.0" r="2.25" fill="#f00" stroke="#000" stroke-width="0.65"/>
<circle cx="312.4" cy="531.5" r="2.25" fill="#f00" stroke="#000" stroke-width="0.65"/>
<circle cx="314.3" cy="559.7" r="2.25" fill="#f00" stroke="#000" stroke-width="0.65"/>
<circle cx="365.5" cy="530.3" r="2.25" fill="#f00" stroke="#000" stroke-width="0.65"/>
<circle cx="362.8" cy="540.6" r="2.25" fill="#f00" stroke="#000" stroke-width="0.65"/>
<circle cx="376.0" cy="479.7" r="2.25" fill="#f00" stroke="#000" stroke-width="0.65"/>
<circle cx="371.8" cy="497.7" r="2.25" fill="#f00" stroke="#000" stroke-width="0.65"/>
<circle cx="380.5" cy="501.3" r="2.25" fill="#f00" stroke="#000" stroke-width="0.65"/>
<circle cx="378.6" cy="508.7" r="2.25" fill="#f00" stroke="#000" stroke-width="0.65"/>
<circle cx="383.9" cy="507.3" r="2.25" fill="#f00" stroke="#000" stroke-width="0.65"/>
<circle cx="384.3" cy="511.2" r="2.25" fill="#f00" stroke="#000" stroke-width="0.65"/>
<circle cx="373.1" cy="514.0" r="2.25" fill="#f00" stroke="#000" stroke-width="0.65"/>
<circle cx="379.2" cy="514.9" r="2.25" fill="#f00" stroke="#000" stroke-width="0.65"/>
<circle cx="380.9" cy="517.2" r="2.25" fill="#f00" stroke="#000" stroke-width="0.65"/>
<circle cx="368.6" cy="518.9" r="2.25" fill="#f00" stroke="#000" stroke-width="0.65"/>
<circle cx="393.3" cy="486.0" r="2.25" fill="#f00" stroke="#000" stroke-width="0.65"/>
<circle cx="410.3" cy="486.0" r="2.25" fill="#f00" stroke="#000" stroke-width="0.65"/>
<circle cx="396.7" cy="509.0" r="2.25" fill="#f00" stroke="#000" stroke-width="0.65"/>
<circle cx="407.7" cy="514.3" r="2.25" fill="#f00" stroke="#000" stroke-width="0.65"/>
<circle cx="397.9" cy="528.9" r="2.25" fill="#f00" stroke="#000" stroke-width="0.65"/>
<circle cx="403.8" cy="531.3" r="2.25" fill="#f00" stroke="#000" stroke-width="0.65"/>
<circle cx="408.6" cy="533.0" r="2.25" fill="#f00" stroke="#000" stroke-width="0.65"/>
<circle cx="377.5" cy="539.4" r="2.25" fill="#f00" stroke="#000" stroke-width="0.65"/>
<circle cx="384.3" cy="542.7" r="2.25" fill="#f00" stroke="#000" stroke-width="0.65"/>
<circle cx="411.1" cy="541.4" r="2.25" fill="#f00" stroke="#000" stroke-width="0.65"/>
<circle cx="412.0" cy="540.4" r="2.25" fill="#f00" stroke="#000" stroke-width="0.65"/>
<circle cx="443.5" cy="461.4" r="2.25" fill="#f00" stroke="#000" stroke-width="0.65"/>
<circle cx="480.2" cy="451.8" r="2.25" fill="#f00" stroke="#000" stroke-width="0.65"/>
<circle cx="472.9" cy="471.4" r="2.25" fill="#f00" stroke="#000" stroke-width="0.65"/>
<circle cx="433.7" cy="509.6" r="2.25" fill="#f00" stroke="#000" stroke-width="0.65"/>
<circle cx="450.9" cy="520.4" r="2.25" fill="#f00" stroke="#000" stroke-width="0.65"/>
<circle cx="445.8" cy="541.2" r="2.25" fill="#f00" stroke="#000" stroke-width="0.65"/>
<circle cx="436.1" cy="549.5" r="2.25" fill="#f00" stroke="#000" stroke-width="0.65"/>
<circle cx="457.3" cy="550.0" r="2.25" fill="#f00" stroke="#000" stroke-width="0.65"/>
<circle cx="450.9" cy="565.3" r="2.25" fill="#f00" stroke="#000" stroke-width="0.65"/>
<circle cx="476.9" cy="541.8" r="2.25" fill="#f00" stroke="#000" stroke-width="0.65"/>
<circle cx="487.6" cy="455.6" r="2.25" fill="#f00" stroke="#000" stroke-width="0.65"/>
<circle cx="489.4" cy="469.6" r="2.25" fill="#f00" stroke="#000" stroke-width="0.65"/>
<circle cx="490.0" cy="511.4" r="2.25" fill="#f00" stroke="#000" stroke-width="0.65"/>
<circle cx="494.3" cy="520.6" r="2.25" fill="#f00" stroke="#000" stroke-width="0.65"/>
<circle cx="504.9" cy="515.6" r="2.25" fill="#f00" stroke="#000" stroke-width="0.65"/>
<circle cx="516.1" cy="526.4" r="2.25" fill="#f00" stroke="#000" stroke-width="0.65"/>
<circle cx="520.8" cy="520.6" r="2.25" fill="#f00" stroke="#000" stroke-width="0.65"/>
<circle cx="525.5" cy="511.5" r="2.25" fill="#f00" stroke="#000" stroke-width="0.65"/>
<circle cx="532.5" cy="525.3" r="2.25" fill="#f00" stroke="#000" stroke-width="0.65"/>
<line x1="57.25" y1="589.12" x2="532.85" y2="479.14" stroke="#000" stroke-width="1.7"/>
<rect x="32.45" y="425.95" width="512.05" height="169.15" fill="none" stroke="#000" stroke-width="0.8"/>
<line x1="32.45" y1="595.10" x2="35.050000000000004" y2="595.10" stroke="#000" stroke-width="0.8"/>
<line x1="544.5" y1="595.10" x2="541.9" y2="595.10" stroke="#000" stroke-width="0.8"/>
<text x="29.7" y="597.55" font-size="8.9" text-anchor="end">200</text>
<line x1="32.45" y1="552.81" x2="35.050000000000004" y2="552.81" stroke="#000" stroke-width="0.8"/>
<line x1="544.5" y1="552.81" x2="541.9" y2="552.81" stroke="#000" stroke-width="0.8"/>
<text x="29.7" y="555.26" font-size="8.9" text-anchor="end">250</text>
<line x1="32.45" y1="510.52" x2="35.050000000000004" y2="510.52" stroke="#000" stroke-width="0.8"/>
<line x1="544.5" y1="510.52" x2="541.9" y2="510.52" stroke="#000" stroke-width="0.8"/>
<text x="29.7" y="512.98" font-size="8.9" text-anchor="end">300</text>
<line x1="32.45" y1="468.24" x2="35.050000000000004" y2="468.24" stroke="#000" stroke-width="0.8"/>
<line x1="544.5" y1="468.24" x2="541.9" y2="468.24" stroke="#000" stroke-width="0.8"/>
<text x="29.7" y="470.69" font-size="8.9" text-anchor="end">350</text>
<line x1="32.45" y1="425.95" x2="35.050000000000004" y2="425.95" stroke="#000" stroke-width="0.8"/>
<line x1="544.5" y1="425.95" x2="541.9" y2="425.95" stroke="#000" stroke-width="0.8"/>
<text x="29.7" y="428.40" font-size="8.9" text-anchor="end">400</text>
<line x1="32.45" y1="595.1" x2="32.45" y2="592.7" stroke="#000" stroke-width="0.8"/>
<line x1="32.45" y1="425.95" x2="32.45" y2="428.34999999999997" stroke="#000" stroke-width="0.8"/>
<text x="32.45" y="603.80" font-size="8.9" text-anchor="middle">200</text>
<line x1="105.60" y1="595.1" x2="105.60" y2="592.7" stroke="#000" stroke-width="0.8"/>
<line x1="105.60" y1="425.95" x2="105.60" y2="428.34999999999997" stroke="#000" stroke-width="0.8"/>
<text x="105.60" y="603.80" font-size="8.9" text-anchor="middle">220</text>
<line x1="178.75" y1="595.1" x2="178.75" y2="592.7" stroke="#000" stroke-width="0.8"/>
<line x1="178.75" y1="425.95" x2="178.75" y2="428.34999999999997" stroke="#000" stroke-width="0.8"/>
<text x="178.75" y="603.80" font-size="8.9" text-anchor="middle">240</text>
<line x1="251.90" y1="595.1" x2="251.90" y2="592.7" stroke="#000" stroke-width="0.8"/>
<line x1="251.90" y1="425.95" x2="251.90" y2="428.34999999999997" stroke="#000" stroke-width="0.8"/>
<text x="251.90" y="603.80" font-size="8.9" text-anchor="middle">260</text>
<line x1="325.05" y1="595.1" x2="325.05" y2="592.7" stroke="#000" stroke-width="0.8"/>
<line x1="325.05" y1="425.95" x2="325.05" y2="428.34999999999997" stroke="#000" stroke-width="0.8"/>
<text x="325.05" y="603.80" font-size="8.9" text-anchor="middle">280</text>
<line x1="398.20" y1="595.1" x2="398.20" y2="592.7" stroke="#000" stroke-width="0.8"/>
<line x1="398.20" y1="425.95" x2="398.20" y2="428.34999999999997" stroke="#000" stroke-width="0.8"/>
<text x="398.20" y="603.80" font-size="8.9" text-anchor="middle">300</text>
<line x1="471.35" y1="595.1" x2="471.35" y2="592.7" stroke="#000" stroke-width="0.8"/>
<line x1="471.35" y1="425.95" x2="471.35" y2="428.34999999999997" stroke="#000" stroke-width="0.8"/>
<text x="471.35" y="603.80" font-size="8.9" text-anchor="middle">320</text>
<line x1="544.50" y1="595.1" x2="544.50" y2="592.7" stroke="#000" stroke-width="0.8"/>
<line x1="544.50" y1="425.95" x2="544.50" y2="428.34999999999997" stroke="#000" stroke-width="0.8"/>
<text x="544.50" y="603.80" font-size="8.9" text-anchor="middle">340</text>
<text x="288.48" y="422.95" font-size="10.9" text-anchor="middle">Kriging/GPR in the diffusion space</text>
<text transform="translate(7.8,510.42) rotate(-90)" font-size="10.3" text-anchor="middle">Predicted DTSM</text>
<text x="288.48" y="616.8" font-size="10.2" text-anchor="middle">Measured DTSM</text>
</svg></body></html>
